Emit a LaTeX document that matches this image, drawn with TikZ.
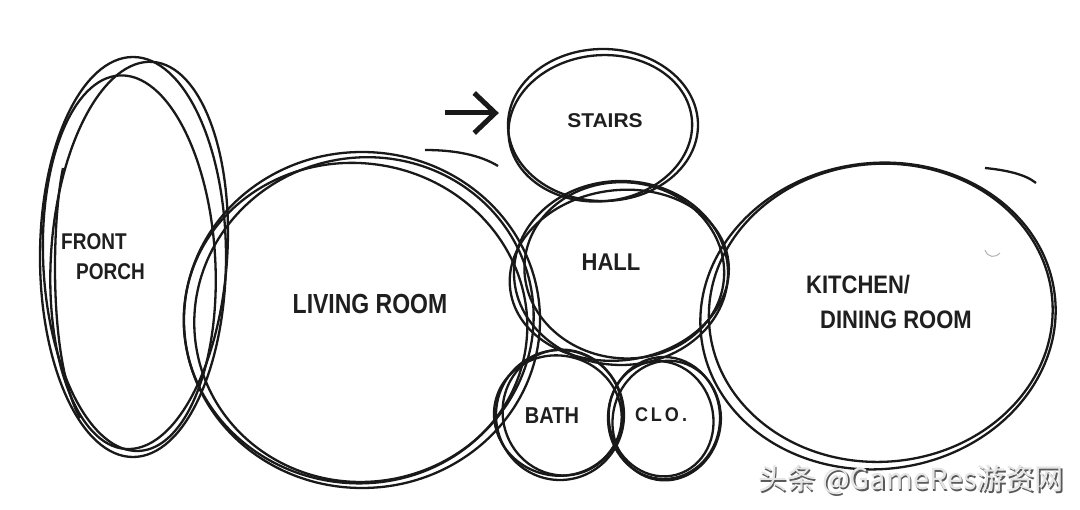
\documentclass[tikz,border=0pt]{standalone}
\usepackage{fontspec}
\setmainfont{Liberation Sans}
\newfontfamily\cjk{Noto Sans CJK SC}
\usetikzlibrary{shapes.geometric,arrows.meta,calc}
\tikzset{
  pen/.style={line width=2.3pt, black!90},
  bubble/.style={ellipse, draw, pen, inner sep=0pt},
  lbl/.style={font=\bfseries\fontsize{22}{25}\selectfont, text=black!88, align=left, inner sep=0pt},
}
\newcommand\tl[2][1.2]{\scalebox{1}[#1]{\begin{tabular}{@{}l@{}}#2\end{tabular}}}
\newcommand\sk[6]{% node, dx, dy, rx, ry, rot
  \draw[pen, rotate around={#6:($(#1.center)+(#2,#3)$)}] ($(#1.center)+(#2,#3)$) ellipse [x radius=#4, y radius=#5];}
\begin{document}
\begin{tikzpicture}[x=1pt,y=-1pt]
\useasboundingbox[fill=white] (0,0) rectangle (1080,510);

% front porch
\node[bubble, minimum width=186, minimum height=400] (porch) at (133,257) {};
\sk{porch}{6}{-2}{88}{194}{-4}
\sk{porch}{-4}{6}{86}{188}{3}
\coordinate (pi1) at (63,168);
\coordinate (pi2) at (80,418);
\draw[pen] (pi1) .. controls (52,220) and (48,360) .. (pi2);
\node[lbl, font=\bfseries\fontsize{19}{25}\selectfont] (porchlbl) at (103,259) {\tl{FRONT\\\hspace{15pt}PORCH}};

% living room
\node[bubble, minimum width=356, minimum height=336] (living) at (362,320) {};
\sk{living}{2}{0}{170}{162}{12}
\sk{living}{-6}{4}{172}{160}{-8}
\coordinate (lt1) at (425,150);
\coordinate (lt2) at (498,166);
\draw[pen] (lt1) .. controls (455,150) and (480,155) .. (lt2);
\node[lbl, font=\bfseries\fontsize{23}{25}\selectfont] (livinglbl) at (370,308) {\tl{LIVING ROOM}};

% stairs
\node[bubble, minimum width=190, minimum height=152] (stairs) at (603,125) {};
\sk{stairs}{-3}{3}{92}{73}{6}
\node[lbl, font=\bfseries\fontsize{21}{25}\selectfont] (stairslbl) at (605,123) {\tl[0.95]{STAIRS}};

% arrow
\coordinate (arA) at (445,113);
\draw[line width=5pt, black!90, -{Straight Barb[length=21pt,width=40pt,line width=5pt]}] (arA) -- ($(stairs.west)+(-8,-12)$);

% hall
\node[bubble, minimum width=214, minimum height=184] (hall) at (621,273) {};
\sk{hall}{3}{-3}{100}{88}{-6}
\sk{hall}{-2}{2}{110}{85}{8}
\node[lbl] (halllbl) at (611,265) {\tl[1.1]{HALL}};

% bath
\node[bubble, minimum width=128, minimum height=130] (bath) at (560,415) {};
\sk{bath}{3}{-2}{60}{63}{10}
\sk{bath}{-2}{1}{64}{60}{-12}
\node[lbl, font=\bfseries\fontsize{20}{25}\selectfont] (bathlbl) at (552,418) {\tl[1.15]{BATH}};

% closet
\node[bubble, minimum width=112, minimum height=122] (clo) at (664,418) {};
\sk{clo}{-3}{0}{52}{58}{15}
\sk{clo}{3}{2}{54}{60}{-10}
\node[lbl, font=\bfseries\fontsize{18}{25}\selectfont] (clolbl) at (661,416) {\tl[1.1]{C\kern3pt L\kern3pt O\kern3pt.}};

% kitchen
\node[bubble, minimum width=356, minimum height=306, rotate=7] (kitchen) at (878,316) {};
\sk{kitchen}{3}{-3}{172}{149}{4}
\coordinate (kt1) at (985,168);
\coordinate (kt2) at (1036,183);
\draw[pen] (kt1) .. controls (1005,170) and (1025,174) .. (kt2);
\coordinate (km1) at (985,250);
\coordinate (km2) at (1000,253);
\draw[line width=1pt, black!30] (km1) .. controls (988,258) and (995,258) .. (km2);
\node[lbl, font=\bfseries\fontsize{22}{30}\selectfont] (kitchenlbl) at (889,304) {\tl[1.15]{KITCHEN/\\\hspace{14pt}DINING ROOM}};

% watermark
\node[font=\cjk\fontsize{29}{29}\selectfont, text=black!65, inner sep=0pt] at (912.5,481.5) {头条 @GameRes游资网};
\node[font=\cjk\fontsize{29}{29}\selectfont, text=white!90!black, inner sep=0pt] (wm) at (911,480) {头条 @GameRes游资网};
\end{tikzpicture}
\end{document}
